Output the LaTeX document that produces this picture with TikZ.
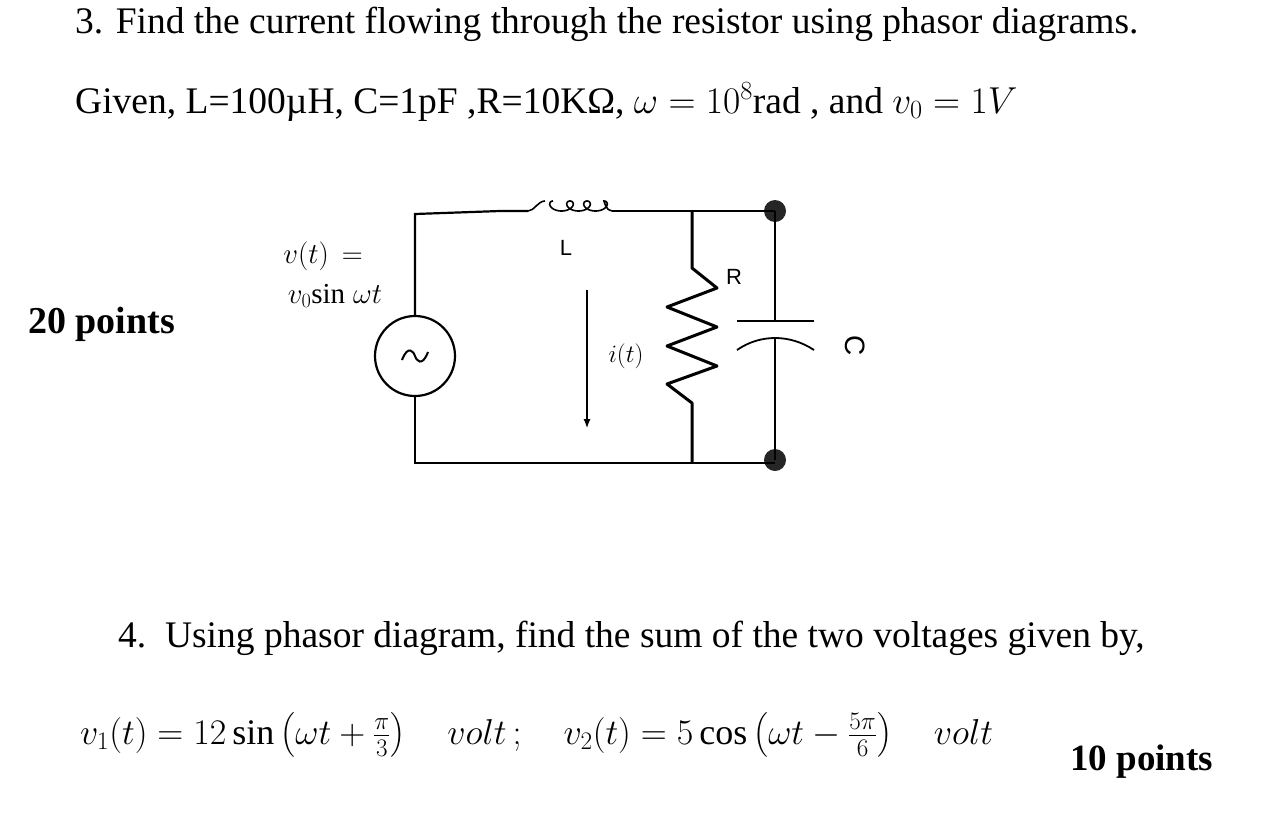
\RequirePackage{fix-cm}
\documentclass[tikz,border=0pt]{standalone}
\usepackage{amsmath}
\usepackage{fontspec}
\setmainfont{Liberation Serif}
\newfontfamily\sansf{Liberation Sans}
\usetikzlibrary{calc,arrows.meta}
\begin{document}
\begin{tikzpicture}[x=1pt,y=-1pt,
  txt/.style={anchor=west,inner sep=0pt,font=\fontsize{37.5}{42}\selectfont},
  wire/.style={line width=2.2pt},
  thin/.style={line width=1.6pt},
  dot/.style={circle,fill=black!85,inner sep=0pt,minimum size=22pt}]
\useasboundingbox (0,0) rectangle (1262,812);
\node[txt] (t3) at (75,24) {3. Find the current flowing through the resistor using phasor diagrams.};
\node[txt] (given) at (75,102) {Given, L=100µH, C=1pF ,R=10KΩ, $\omega=10^{8}$rad , and $v_0=1V$};
\node[txt,font=\fontsize{38}{42}\bfseries] (p20) at (28,324) {20 points};
\node[anchor=center,font=\fontsize{29}{32}\selectfont] (vt) at (323,256) {$v(t)\,=$};
\node[anchor=center,font=\fontsize{29}{32}\selectfont] (vs) at (335,296) {$v_0\mathrm{sin}\;\omega t$};
% circuit
\coordinate (tl) at (415,214); \coordinate (bl) at (415,463);
\coordinate (l1) at (528,211); \coordinate (l2) at (612,211);
\coordinate (rt) at (692,211); \coordinate (rz1) at (692,268); \coordinate (rz2) at (692,403); \coordinate (rb) at (692,463);
\node[dot] (dt) at (775,211) {};
\node[dot] (db) at (775,460) {};
\node[circle,draw,line width=2.2pt,minimum size=80pt,inner sep=0pt] (src) at (415,356) {};
\draw[line width=2pt] ($(src.center)+(-13,4)$) .. controls ($(src.center)+(-7,-12)$) and ($(src.center)+(-1,-4)$) .. (src.center) .. controls ($(src.center)+(1,4)$) and ($(src.center)+(7,12)$) .. ($(src.center)+(13,-4)$);
\draw[wire] (src.north) -- (tl) -- (500,211) -- (l1);
\draw[thin] (l1) .. controls (534,211) and (538,201) .. (545,201)
  plot[domain=180:1260,samples=140] ({553+(\x-180)/360*17+7*sin(\x)},{206+5*cos(\x)})
  .. controls (604,201) and (606,211) .. (l2);
\draw[wire] (l2) -- (rt) -- (dt.center);
\draw[wire,line width=3pt,line join=round] (rt) -- (rz1) -- (717,288) -- (667,307) -- (717,327) -- (667,346) -- (717,366) -- (667,384) -- (rz2) -- (rb);
\draw[wire] (src.south) -- (bl) -- (rb) -- (db.center |- rb);
\draw[line width=1.8pt] (dt.center) -- (775,321) (737,321) -- (814,321);
\draw[line width=1.8pt] (737,350) .. controls (760,334) and (790,334) .. (814,350);
\draw[line width=1.8pt] (775,339) -- (db.center);
\node[font=\sansf\fontsize{22}{26}\selectfont] (Llab) at (566,248) {L};
\node[font=\sansf\fontsize{22}{26}\selectfont] (Rlab) at (734,277) {R};
\node[font=\sansf\fontsize{28}{30}\selectfont,rotate=-90] (Clab) at (855,346) {C};
\coordinate (a1) at (587,290); \coordinate (a2) at (587,428);
\draw[line width=1.2pt,-{Latex[length=9pt,width=7pt]}] (a1) -- (a2);
\node[font=\fontsize{25}{28}\selectfont] (it) at (626,356) {$i(t)$};
% part 4
\node[txt] (t4) at (118,638) {4.\ \ Using phasor diagram, find the sum of the two voltages given by,};
\node[txt,font=\fontsize{36}{40}\selectfont] (eq) at (80,735) {$v_1(t)=12\sin\left(\omega t+\frac{\pi}{3}\right)\quad volt\,;\quad v_2(t)=5\cos\left(\omega t-\frac{5\pi}{6}\right)\quad volt$};
\node[txt,font=\fontsize{37}{42}\bfseries] (p10) at (1070,762) {10 points};
\end{tikzpicture}
\end{document}
